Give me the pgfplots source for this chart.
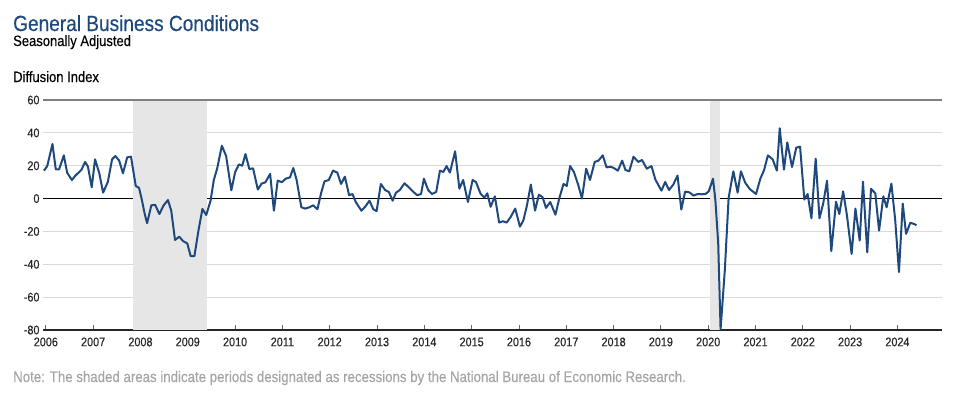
\documentclass[border=0pt]{standalone}
\usepackage{fontspec}
\setmainfont{Liberation Sans}[FakeStretch=0.87, FakeBold=0.4]
\usepackage{pgfplots}
\pgfplotsset{compat=1.18}
\definecolor{fedblue}{RGB}{31,73,125}
\definecolor{recgray}{RGB}{230,230,230}
\definecolor{gridgray}{RGB}{217,217,217}
\definecolor{notegray}{RGB}{165,165,165}

\begin{document}
\begin{tikzpicture}[x=1bp,y=1bp]
\path[use as bounding box] (0,0) rectangle (975,402);
\node[anchor=base west, inner sep=0, text=fedblue, font=\fontsize{22}{24}\selectfont] at (13,371) {General Business Conditions};
\node[anchor=base west, inner sep=0, font=\fontsize{15}{17}\selectfont] at (13,356) {Seasonally Adjusted};
\node[anchor=base west, inner sep=0, font=\fontsize{15}{17}\selectfont] at (13,320) {Diffusion Index};
\node[anchor=base west, inner sep=0, text=notegray, font=\fontsize{15.3}{17}\selectfont] at (13,20) {Note: The shaded areas indicate periods designated as recessions by the National Bureau of Economic Research.};

\begin{axis}[
    at={(43bp,72bp)}, anchor=south west,
    scale only axis,
    width=899bp, height=230bp,
    xmin=2005.94, xmax=2024.94,
    ymin=-80, ymax=60,
    xtick={2006,...,2024},
    ytick={-80,-60,...,60},
    axis x line*=bottom,
    axis y line*=left,
    y axis line style={draw=none},
    x axis line style={black!85, line width=2.6bp},
    xtick align=inside,
    major tick length=5bp,
    xtick style={black!60, line width=0.8bp},
    ytick style={draw=none},
    ymajorgrids=true,
    grid style={gridgray, line width=1.2bp},
    extra y ticks={0},
    extra y tick labels={},
    extra y tick style={grid style={black, line width=1.3bp}},
    /pgf/number format/assume math mode=true,
    /pgf/number format/1000 sep={},
    tick label style={font=\fontsize{12.5}{14}\selectfont, text=black!85},
    xticklabel style={yshift=-4bp},
    yticklabel style={anchor=east},
    after end axis/.code={\draw[black!50, line width=2.2bp] (rel axis cs:0,1) -- (rel axis cs:1,1);},
]
% recession bands
\addplot[fill=recgray, draw=none] coordinates {(2007.84,-80) (2007.84,60) (2009.40,60) (2009.40,-80)} -- cycle;
\addplot[fill=recgray, draw=none] coordinates {(2020.04,-80) (2020.04,60) (2020.25,60) (2020.25,-80)} -- cycle;

\addplot[fedblue, line width=2bp, line join=round] coordinates {
(2005.96,17) (2006.03,19.8) (2006.14,33.2) (2006.21,17.8) (2006.28,17.8)
(2006.38,26.3) (2006.45,15.8) (2006.55,11.3) (2006.62,13.8) (2006.75,17.4)
(2006.83,22.3) (2006.89,19.4) (2006.97,6.9) (2007.04,23.9) (2007.13,15.4)
(2007.21,3.6) (2007.31,10.1) (2007.40,23.9) (2007.47,25.9) (2007.55,23.1)
(2007.63,15.4) (2007.72,25.1) (2007.80,25.5) (2007.90,7.7) (2007.97,6.5)
(2008.03,-0.9) (2008.09,-9.4) (2008.14,-15) (2008.23,-4.1) (2008.31,-3.8)
(2008.40,-9.4) (2008.49,-4.1) (2008.58,-0.9) (2008.65,-7.3) (2008.73,-25.2)
(2008.82,-23.2) (2008.90,-25.9) (2008.99,-27.3) (2009.06,-35) (2009.14,-35)
(2009.23,-18.7) (2009.31,-6.3) (2009.39,-10) (2009.48,-1.5) (2009.55,11.3)
(2009.62,18.2) (2009.72,32.2) (2009.81,25.9) (2009.92,5) (2010.00,16)
(2010.08,20.8) (2010.15,20) (2010.22,27.1) (2010.30,18) (2010.38,18.4)
(2010.48,5.5) (2010.56,9.1) (2010.64,9.9) (2010.74,15) (2010.82,-7.4)
(2010.90,10.9) (2010.99,10) (2011.07,12.1) (2011.16,12.9) (2011.23,18.6)
(2011.30,11.3) (2011.40,-5.3) (2011.48,-6.1) (2011.57,-5.3) (2011.65,-4.1)
(2011.74,-6.5) (2011.82,3.6) (2011.89,10.5) (2011.98,11.3) (2012.07,17)
(2012.16,15.8) (2012.24,8.9) (2012.32,13.3) (2012.41,2) (2012.48,2.8)
(2012.55,-2.1) (2012.67,-7.4) (2012.75,-4.9) (2012.84,-1.3) (2012.92,-6.5)
(2012.99,-7.7) (2013.08,8.9) (2013.17,5.2) (2013.25,4) (2013.33,-1.3)
(2013.40,3.6) (2013.48,5.2) (2013.58,9.3) (2013.67,6.9) (2013.77,4)
(2013.85,2) (2013.93,2.8) (2013.99,12.1) (2014.08,5.2) (2014.16,2.8)
(2014.25,4) (2014.33,17) (2014.40,16.2) (2014.47,19.8) (2014.54,15.8)
(2014.65,28.8) (2014.74,6) (2014.82,11.3) (2014.92,-2.1) (2015.02,11.3)
(2015.09,10.1) (2015.19,2.8) (2015.27,0.6) (2015.33,3.2) (2015.40,-5)
(2015.49,1.4) (2015.58,-14.6) (2015.66,-13.8) (2015.74,-14.6) (2015.82,-11.4)
(2015.92,-6.1) (2016.02,-17.1) (2016.09,-13.4) (2016.16,-5.3) (2016.25,8.5)
(2016.34,-7.3) (2016.42,2.4) (2016.50,0.8) (2016.57,-5.7) (2016.66,-2.1)
(2016.77,-9.8) (2016.85,0) (2016.94,8.9) (2017.01,7.7) (2017.08,19.8)
(2017.16,16.2) (2017.25,8.5) (2017.33,0) (2017.42,18.2) (2017.50,11.3)
(2017.60,22.3) (2017.68,23.1) (2017.77,26.3) (2017.85,19) (2017.94,19.4)
(2018.01,18.5) (2018.09,17) (2018.18,23.1) (2018.25,17.4) (2018.33,16.6)
(2018.42,25.5) (2018.52,22.3) (2018.60,23.5) (2018.70,18.2) (2018.80,19.8)
(2018.88,11.7) (2019.01,4.8) (2019.09,10.1) (2019.17,5.2) (2019.26,8.5)
(2019.35,14) (2019.43,-6.7) (2019.51,4.2) (2019.60,3.8) (2019.69,1.8)
(2019.78,2.8) (2019.86,2.6) (2019.94,2.8) (2020.01,4.4) (2020.10,12.1)
(2020.15,-0.9) (2020.21,-27.2) (2020.26,-79.6) (2020.35,-43.5) (2020.43,0.4)
(2020.53,16.6) (2020.62,3.6) (2020.69,16.6) (2020.78,9.7) (2020.88,5.7)
(2021.01,2.8) (2021.10,12.1) (2021.18,17.4) (2021.26,26.3) (2021.36,23.9)
(2021.45,17) (2021.51,42.8) (2021.60,17.6) (2021.67,34.2) (2021.77,19.2)
(2021.86,31) (2021.94,31.6) (2022.03,-0.6) (2022.10,2.8) (2022.18,-12)
(2022.27,24.3) (2022.35,-12) (2022.43,-2.9) (2022.51,10.9) (2022.60,-32)
(2022.70,-1.9) (2022.77,-9.4) (2022.85,4.4) (2022.93,-10) (2023.03,-33.7)
(2023.11,-6.1) (2023.20,-25.6) (2023.27,10.3) (2023.36,-32.7) (2023.44,6)
(2023.53,3.2) (2023.61,-19.5) (2023.70,1.4) (2023.77,-5.3) (2023.87,9.1)
(2023.95,-12.8) (2024.03,-44.7) (2024.11,-3.1) (2024.18,-21.5) (2024.27,-14.7)
(2024.36,-15.6) (2024.40,-16.3)
};
\end{axis}
\end{tikzpicture}
\end{document}
